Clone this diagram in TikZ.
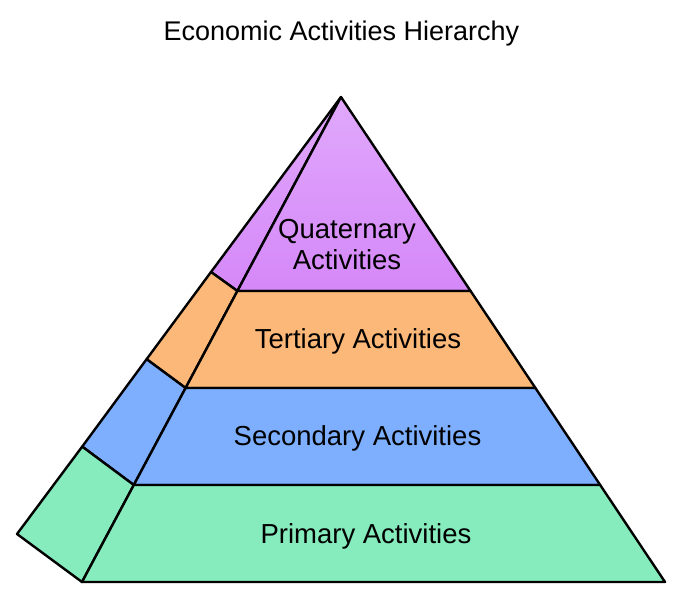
\documentclass[tikz,border=0pt]{standalone}
\usepackage{fontspec}
\setmainfont{Liberation Sans}
\definecolor{quattop}{RGB}{224,168,252}
\definecolor{quatbot}{RGB}{213,136,248}
\definecolor{tert}{RGB}{251,184,120}
\definecolor{seco}{RGB}{126,175,254}
\definecolor{prim}{RGB}{134,235,189}
\tikzset{
  face/.style={draw=black, line width=2.4bp, line join=round},
  lbl/.style={font=\fontsize{27.5bp}{31bp}\selectfont, text=black, align=center, inner sep=0pt},
  ttl/.style={font=\fontsize{27bp}{31bp}\selectfont, text=black, inner sep=0pt}
}
\begin{document}
\begin{tikzpicture}[x=1bp,y=-1bp]
\useasboundingbox (0,0) rectangle (684,601);
% coordinates
\coordinate (A) at (341,97);
\coordinate (B) at (17,534);
\coordinate (L1) at (211,272);
\coordinate (L2) at (146.6,359.2);
\coordinate (L3) at (82.2,446.6);
\coordinate (F1) at (237.4,291);
\coordinate (F2) at (185.6,388);
\coordinate (F3) at (133.8,485);
\coordinate (F4) at (82,582);
\coordinate (R1) at (470.6,291);
\coordinate (R2) at (535.4,388);
\coordinate (R3) at (600.2,485);
\coordinate (R4) at (665,582);
% side faces
\shade[top color=quattop, bottom color=quatbot] (A) -- (L1) -- (F1) -- cycle;
\draw[face] (A) -- (L1) -- (F1) -- cycle;
\filldraw[face, fill=tert] (L1) -- (F1) -- (F2) -- (L2) -- cycle;
\filldraw[face, fill=seco] (L2) -- (F2) -- (F3) -- (L3) -- cycle;
\filldraw[face, fill=prim] (L3) -- (F3) -- (F4) -- (B) -- cycle;
% front faces
\shade[top color=quattop, bottom color=quatbot] (A) -- (F1) -- (R1) -- cycle;
\draw[face] (A) -- (F1) -- (R1) -- cycle;
\filldraw[face, fill=tert] (F1) -- (F2) -- (R2) -- (R1) -- cycle;
\filldraw[face, fill=seco] (F2) -- (F3) -- (R3) -- (R2) -- cycle;
\filldraw[face, fill=prim] (F3) -- (F4) -- (R4) -- (R3) -- cycle;
% labels
\node[ttl] (title) at (341.5,34) {Economic Activities Hierarchy};
\node[lbl] (q) at (347,244.5) {Quaternary\\Activities};
\node[lbl] (t) at (358,341.5) {Tertiary Activities};
\node[lbl] (s) at (357.5,438.5) {Secondary Activities};
\node[lbl] (p) at (366,536.5) {Primary Activities};
\end{tikzpicture}
\end{document}
